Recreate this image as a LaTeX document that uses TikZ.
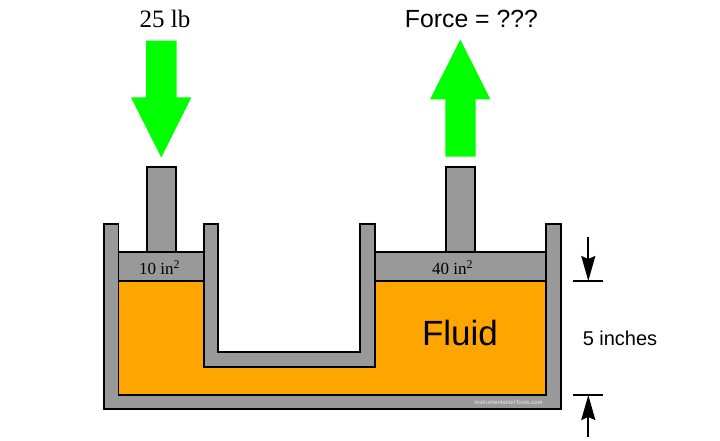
\documentclass[tikz,border=0pt]{standalone}
\usepackage{fontspec}
\setmainfont{Liberation Sans}
\newfontfamily\timesfont{Liberation Serif}
\usetikzlibrary{arrows.meta}
\definecolor{wallgray}{RGB}{153,153,153}
\definecolor{fluidorange}{RGB}{255,165,0}
\definecolor{forcegreen}{RGB}{0,255,0}
\begin{document}
\begin{tikzpicture}[x=1pt, y=-1pt,
              solid part/.style = {draw=black, line width=1.8pt, fill=wallgray, line join=miter},
              fluid part/.style = {fill=fluidorange, draw=none},
              force arrow/.style = {fill=forcegreen, draw=none},
              dim line/.style = {draw=black, line width=1.7pt},
              dim arrow/.style = {draw=black, line width=1.7pt,
                -{Stealth[length=25pt, width=14pt, inset=3pt]}},
              every node/.style = {inner sep=0pt, text=black}]
    \useasboundingbox (0,0) rectangle (720,441);
    % fluid
    \fill[fluid part] (118.5,281) -- (204,281) -- (204,366.7) -- (375,366.7) -- (375,281)
        -- (546,281) -- (546,395) -- (118.5,395) -- cycle;
    % vessel
    \draw[solid part] (104,224) -- (104,409) -- (560.7,409) -- (560.7,224) -- (546,224)
        -- (546,395) -- (118.5,395) -- (118.5,224) -- cycle;
    \draw[solid part] (204,224) -- (204,366.7) -- (375,366.7) -- (375,224) -- (360,224)
        -- (360,352) -- (218.3,352) -- (218.3,224) -- cycle;
    % pistons
    \draw[solid part] (146.7,252.3) -- (146.7,166.7) -- (175.7,166.7) -- (175.7,252.3);
    \draw[solid part] (446,252.3) -- (446,166.7) -- (474.7,166.7) -- (474.7,252.3);
    \draw[solid part] (118.5,252.3) rectangle (204,281);
    \draw[solid part] (375,252.3) rectangle (546,281);
    % force arrows
    \fill[force arrow] (146,40.7) -- (176.7,40.7) -- (176.7,97.5) -- (191.3,97.5) -- (161.3,157.5)
        -- (131,97.5) -- (146,97.5) -- cycle;
    \fill[force arrow] (445.3,156.7) -- (475.7,156.7) -- (475.7,99.5) -- (490.5,99.5) -- (460.3,39.5)
        -- (430,99.5) -- (445.3,99.5) -- cycle;
    % dimension
    \coordinate (dimtop) at (588.3,281);
    \coordinate (dimtopstart) at (588.3,237);
    \coordinate (dimbot) at (588.3,395);
    \coordinate (dimbotstart) at (588.3,437);
    \draw[dim line] (573.3,281) -- (603.3,281);
    \draw[dim line] (573.3,395) -- (603.3,395);
    \draw[dim arrow] (dimtopstart) -- (dimtop);
    \draw[dim arrow] (dimbotstart) -- (dimbot);
    % labels
    \node (load) at (165,19) {\timesfont\fontsize{25}{25}\selectfont 25 lb};
    \node (force) at (471.5,19) {\fontsize{24.8}{25}\selectfont Force = ???};
    \node (smallarea) at (159.5,267.5) {\timesfont\fontsize{17}{17}\selectfont 10 in\textsuperscript{2}};
    \node (bigarea) at (452.5,267.5) {\timesfont\fontsize{17}{17}\selectfont 40 in\textsuperscript{2}};
    \node (fluid) at (460,333) {\fontsize{35}{35}\selectfont Fluid};
    \node (height) at (620,338) {\fontsize{20}{20}\selectfont 5 inches};
    \node[text=white!85!gray] (mark) at (508.5,402) {\fontsize{6}{6}\selectfont InstrumentationTools.com};
\end{tikzpicture}
\end{document}
